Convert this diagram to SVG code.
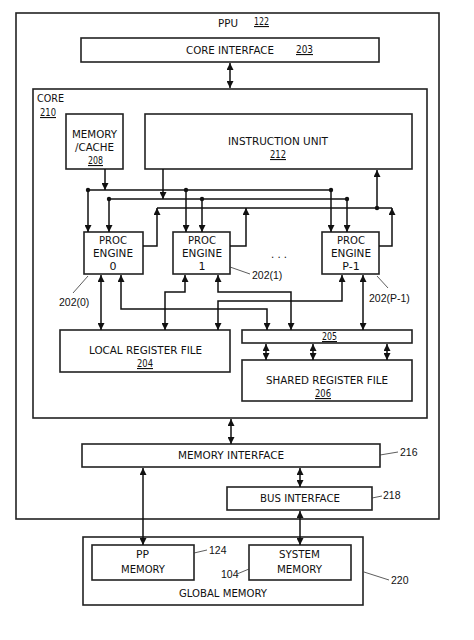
<svg xmlns="http://www.w3.org/2000/svg" width="474" height="640" viewBox="0 0 474 640">
<style>
.box{fill:#fff;stroke:#222;stroke-width:1.6}
.t{font-family:"DejaVu Sans","Liberation Sans",sans-serif;font-size:11px;fill:#111}
.m{text-anchor:middle}
.u{text-decoration:underline}
.n{font-family:"Liberation Sans",Arial,sans-serif;font-size:10.5px;fill:#111}
.c{fill:none;stroke:#111;stroke-width:1.5}
.l{fill:none;stroke:#333;stroke-width:0.8}
.d{fill:#111}
</style>
<defs>
<marker id="a" viewBox="0 0 10 10" refX="10" refY="5" markerWidth="7" markerHeight="7" markerUnits="userSpaceOnUse" orient="auto-start-reverse">
<path d="M0,0 L10,5 L0,10 z" fill="#111"/>
</marker>
</defs>
<rect width="474" height="640" fill="#fff"/>

<g id="ppu">
<rect class="box" x="16" y="13" width="423" height="506"/>
<text class="t" x="218" y="27" textLength="20" lengthAdjust="spacingAndGlyphs">PPU</text>
<text class="t u" x="254" y="25" textLength="15" lengthAdjust="spacingAndGlyphs">122</text>
</g>

<g id="core-interface">
<rect class="box" x="81" y="38" width="298" height="24"/>
<text class="t" x="186" y="54" textLength="88" lengthAdjust="spacingAndGlyphs">CORE INTERFACE</text>
<text class="t u" x="296" y="53" textLength="17" lengthAdjust="spacingAndGlyphs">203</text>
</g>

<g id="core">
<rect class="box" x="33" y="89" width="394" height="329"/>
<text class="t" x="37" y="102" textLength="27" lengthAdjust="spacingAndGlyphs">CORE</text>
<text class="t u" x="40" y="116" textLength="16" lengthAdjust="spacingAndGlyphs">210</text>
</g>

<g id="memory-cache">
<rect class="box" x="66" y="114" width="57" height="55"/>
<text class="t" x="72" y="138" textLength="45" lengthAdjust="spacingAndGlyphs">MEMORY</text>
<text class="t" x="75" y="151" textLength="39" lengthAdjust="spacingAndGlyphs">/CACHE</text>
<text class="t u" x="88" y="164" textLength="15" lengthAdjust="spacingAndGlyphs">208</text>
</g>

<g id="instruction-unit">
<rect class="box" x="145" y="114" width="267" height="55"/>
<text class="t" x="228" y="145" textLength="100" lengthAdjust="spacingAndGlyphs">INSTRUCTION UNIT</text>
<text class="t u" x="270" y="158" textLength="16" lengthAdjust="spacingAndGlyphs">212</text>
</g>

<g id="pe0">
<rect class="box" x="84" y="232" width="59" height="42"/>
<text class="t" x="99" y="244" textLength="28" lengthAdjust="spacingAndGlyphs">PROC</text>
<text class="t" x="93" y="257" textLength="40" lengthAdjust="spacingAndGlyphs">ENGINE</text>
<text class="t m" x="113" y="270">0</text>
<text class="n" x="59" y="306">202(0)</text>
</g>

<g id="pe1">
<rect class="box" x="173" y="232" width="57" height="42"/>
<text class="t" x="188" y="244" textLength="28" lengthAdjust="spacingAndGlyphs">PROC</text>
<text class="t" x="182" y="257" textLength="40" lengthAdjust="spacingAndGlyphs">ENGINE</text>
<text class="t m" x="202" y="270">1</text>
<text class="n" x="252" y="279">202(1)</text>
</g>

<g id="ellipsis">
<text class="t" x="271" y="258" textLength="16" lengthAdjust="spacingAndGlyphs">. . .</text>
</g>

<g id="pe-p1">
<rect class="box" x="322" y="232" width="57" height="42"/>
<text class="t" x="337" y="244" textLength="28" lengthAdjust="spacingAndGlyphs">PROC</text>
<text class="t" x="331" y="257" textLength="40" lengthAdjust="spacingAndGlyphs">ENGINE</text>
<text class="t m" x="351" y="270">P-1</text>
<text class="n" x="369" y="302">202(P-1)</text>
</g>

<g id="local-register-file">
<rect class="box" x="60" y="330" width="170" height="42"/>
<text class="t" x="89" y="354" textLength="113" lengthAdjust="spacingAndGlyphs">LOCAL REGISTER FILE</text>
<text class="t u" x="137" y="367" textLength="16" lengthAdjust="spacingAndGlyphs">204</text>
</g>

<g id="crossbar-205">
<rect class="box" x="242" y="330" width="170" height="13"/>
<text class="t u" x="322" y="340" textLength="15" lengthAdjust="spacingAndGlyphs">205</text>
</g>

<g id="shared-register-file">
<rect class="box" x="242" y="360" width="170" height="41"/>
<text class="t" x="266" y="384" textLength="122" lengthAdjust="spacingAndGlyphs">SHARED REGISTER FILE</text>
<text class="t u" x="315" y="397" textLength="16" lengthAdjust="spacingAndGlyphs">206</text>
</g>

<g id="memory-interface">
<rect class="box" x="82" y="444" width="298" height="23"/>
<text class="t" x="178" y="459" textLength="106" lengthAdjust="spacingAndGlyphs">MEMORY INTERFACE</text>
<text class="n" x="400" y="456">216</text>
</g>

<g id="bus-interface">
<rect class="box" x="227" y="487" width="145" height="23"/>
<text class="t" x="260" y="502" textLength="80" lengthAdjust="spacingAndGlyphs">BUS INTERFACE</text>
<text class="n" x="383" y="499">218</text>
</g>

<g id="global-memory">
<rect class="box" x="83" y="537" width="280" height="68"/>
<text class="t" x="179" y="597" textLength="88" lengthAdjust="spacingAndGlyphs">GLOBAL MEMORY</text>
<text class="n" x="391" y="584">220</text>
</g>

<g id="pp-memory">
<rect class="box" x="92" y="545" width="102" height="35"/>
<text class="t" x="136" y="558" textLength="13" lengthAdjust="spacingAndGlyphs">PP</text>
<text class="t" x="121" y="573" textLength="44" lengthAdjust="spacingAndGlyphs">MEMORY</text>
<text class="n" x="209" y="554">124</text>
</g>

<g id="system-memory">
<rect class="box" x="249" y="545" width="102" height="35"/>
<text class="t" x="279" y="558" textLength="41" lengthAdjust="spacingAndGlyphs">SYSTEM</text>
<text class="t" x="277" y="573" textLength="45" lengthAdjust="spacingAndGlyphs">MEMORY</text>
<text class="n" x="221" y="578">104</text>
</g>

<g id="connectors">
<path class="c" d="M230,63 V88" marker-start="url(#a)" marker-end="url(#a)"/>
<path class="c" d="M105,169 V190" marker-end="url(#a)"/>
<path class="c" d="M88,190 H331"/>
<path class="c" d="M88,190 V232" marker-end="url(#a)"/>
<path class="c" d="M186,190 V232" marker-end="url(#a)"/>
<path class="c" d="M331,190 V232" marker-end="url(#a)"/>
<path class="c" d="M163,169 V199" marker-end="url(#a)"/>
<path class="c" d="M109,199 H347"/>
<path class="c" d="M109,199 V232" marker-end="url(#a)"/>
<path class="c" d="M202,199 V232" marker-end="url(#a)"/>
<path class="c" d="M347,199 V232" marker-end="url(#a)"/>
<path class="c" d="M157,208 H392"/>
<path class="c" d="M377,208 V170" marker-end="url(#a)"/>
<path class="c" d="M143,246 H157 V208" marker-end="url(#a)"/>
<path class="c" d="M230,246 H246 V208" marker-end="url(#a)"/>
<path class="c" d="M379,246 H392 V208" marker-end="url(#a)"/>
<circle class="d" cx="88" cy="190" r="2.2"/>
<circle class="d" cx="186" cy="190" r="2.2"/>
<circle class="d" cx="331" cy="190" r="2.2"/>
<circle class="d" cx="109" cy="199" r="2.2"/>
<circle class="d" cx="202" cy="199" r="2.2"/>
<circle class="d" cx="347" cy="199" r="2.2"/>
<circle class="d" cx="377" cy="208" r="2.2"/>
<path class="c" d="M101,275 V330" marker-start="url(#a)" marker-end="url(#a)"/>
<path class="c" d="M121,275 V309 H267 V330" marker-start="url(#a)" marker-end="url(#a)"/>
<path class="c" d="M185,275 V292 H165 V330" marker-start="url(#a)" marker-end="url(#a)"/>
<path class="c" d="M218,275 V292 H291 V330" marker-start="url(#a)" marker-end="url(#a)"/>
<path class="c" d="M342,275 V301 H218 V330" marker-start="url(#a)" marker-end="url(#a)"/>
<path class="c" d="M363,275 V330" marker-start="url(#a)" marker-end="url(#a)"/>
<path class="c" d="M266,344 V360" marker-start="url(#a)" marker-end="url(#a)"/>
<path class="c" d="M313,344 V360" marker-start="url(#a)" marker-end="url(#a)"/>
<path class="c" d="M387,344 V360" marker-start="url(#a)" marker-end="url(#a)"/>
<path class="c" d="M231,419 V444" marker-start="url(#a)" marker-end="url(#a)"/>
<path class="c" d="M300,468 V487" marker-start="url(#a)" marker-end="url(#a)"/>
<path class="c" d="M143,468 V545" marker-start="url(#a)" marker-end="url(#a)"/>
<path class="c" d="M300,511 V545" marker-start="url(#a)" marker-end="url(#a)"/>
<path class="l" d="M88,276 L73,293"/>
<path class="l" d="M230,267 L250,274"/>
<path class="l" d="M377,276 L388,288"/>
<path class="l" d="M380,455 L398,452"/>
<path class="l" d="M372,498 L382,496"/>
<path class="l" d="M194,553 L207,550"/>
<path class="l" d="M237,574 L249,569"/>
<path class="l" d="M364,572 L389,580"/>
</g>
</svg>
